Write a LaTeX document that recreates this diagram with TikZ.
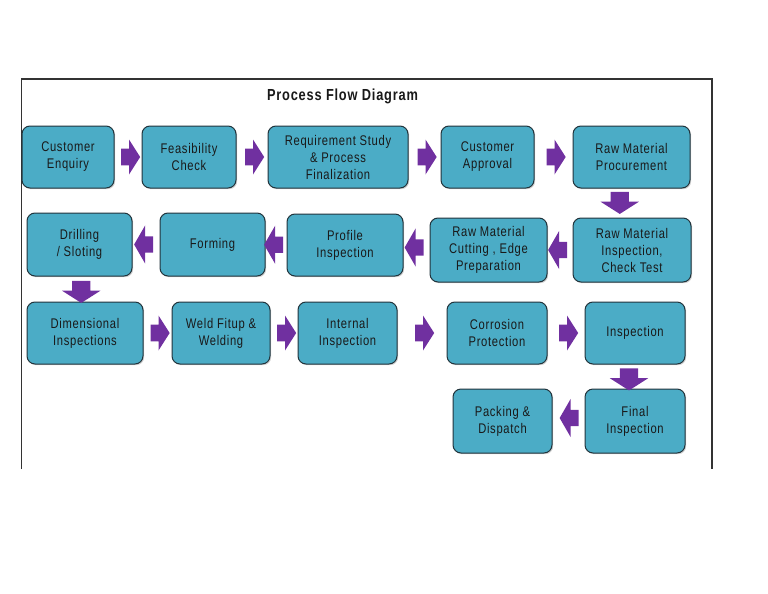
\documentclass[tikz,border=0pt]{standalone}
\usepackage{fontspec}
\setmainfont{Liberation Sans}[FakeStretch=0.8,LetterSpace=5]
\usetikzlibrary{shapes.arrows,shadows,calc}
\definecolor{boxfill}{HTML}{4BACC6}
\definecolor{arrfill}{HTML}{7030A0}
\definecolor{boxline}{HTML}{22343C}
\begin{document}
\begin{tikzpicture}[x=1pt,y=-1pt,
  stepbox/.style={rectangle, rounded corners=8pt, draw=boxline, line width=1pt,
    fill=boxfill, align=center, font=\fontsize{14}{17}\selectfont, text=black!90,
    inner sep=1pt,
    drop shadow={shadow xshift=1.2pt,shadow yshift=-1.2pt,opacity=0.35}},
  blockarrow/.style={single arrow, fill=arrfill, draw=none, minimum height=19pt,
    minimum width=35pt, single arrow head extend=9pt, single arrow tip angle=115},
  rarrow/.style={blockarrow, shape border rotate=0, inner xsep=0pt, inner ysep=8pt},
  larrow/.style={blockarrow, shape border rotate=180, inner xsep=0pt, inner ysep=8pt,
    minimum width=38pt, single arrow head extend=11pt, single arrow tip angle=120},
  darrow/.style={blockarrow, shape border rotate=270, inner xsep=9pt, inner ysep=0pt,
    minimum width=37pt, single arrow head extend=10pt, minimum height=22pt},
  frameline/.style={draw=black!80, line width=1.1pt}
]
\useasboundingbox (0,0) rectangle (768,594);

% frame
\coordinate (fbl) at (21.5,469);
\coordinate (ftl) at (21.5,79);
\coordinate (ftr) at (712,79);
\coordinate (fbr) at (712,469);
\draw[frameline] (fbl) -- (ftl) -- (ftr) -- (fbr);

\node[font=\bfseries\fontsize{16}{18}\selectfont, text=black!90] (title) at (342.5,96) {Process Flow Diagram};

% row 1
\node[stepbox, minimum width=92pt, minimum height=62pt] (p1) at (68,157) {Customer\\Enquiry};
\node[stepbox, minimum width=94pt, minimum height=62pt] (p2) at (189,157) {Feasibility\\Check};
\node[stepbox, minimum width=140pt, minimum height=62pt] (p3) at (338,157) {Requirement Study\\\& Process\\Finalization};
\node[stepbox, minimum width=93pt, minimum height=62pt] (p4) at (487.5,157) {Customer\\Approval};
\node[stepbox, minimum width=117pt, minimum height=62pt] (p5) at (631.5,157) {Raw Material\\Procurement};

% row 2
\node[stepbox, minimum width=118pt, minimum height=64pt] (p6) at (632,250) {Raw Material\\Inspection,\\Check Test};
\node[stepbox, minimum width=117pt, minimum height=64pt] (p7) at (488.5,250) {Raw Material\\Cutting , Edge\\Preparation};
\node[stepbox, minimum width=116pt, minimum height=62pt] (p8) at (345,245) {Profile\\Inspection};
\node[stepbox, minimum width=105pt, minimum height=63pt] (p9) at (212.5,244.5) {Forming};
\node[stepbox, minimum width=105pt, minimum height=63pt] (p10) at (79.5,244.5) {Drilling\\/ Sloting};

% row 3
\node[stepbox, minimum width=116pt, minimum height=62pt] (p11) at (85,333) {Dimensional\\Inspections};
\node[stepbox, minimum width=98pt, minimum height=62pt] (p12) at (221,333) {Weld Fitup \&\\Welding};
\node[stepbox, minimum width=99pt, minimum height=62pt] (p13) at (347.5,333) {Internal\\Inspection};
\node[stepbox, minimum width=100pt, minimum height=62pt] (p14) at (497,333) {Corrosion\\Protection};
\node[stepbox, minimum width=100pt, minimum height=62pt] (p15) at (635,333) {Inspection};

% row 4
\node[stepbox, minimum width=100pt, minimum height=64pt] (p16) at (635,421) {Final\\Inspection};
\node[stepbox, minimum width=99pt, minimum height=64pt] (p17) at (502.5,421) {Packing \&\\Dispatch};

% arrows row 1
\node[rarrow] (a1) at ($(p1.east)!0.5!(p2.west)$) {};
\node[rarrow] (a2) at ($(p2.east)!0.5!(p3.west)$) {};
\node[rarrow] (a3) at ($(p3.east)!0.5!(p4.west)$) {};
\node[rarrow] (a4) at ($(p4.east)!0.5!(p5.west)$) {};
\node[darrow, xshift=-12pt, yshift=3pt] (a5) at ($(p5.south)!0.5!(p6.north)$) {};
% arrows row 2
\node[larrow] (a6) at ($(p6.west)!0.5!(p7.east)$) {};
\node[larrow] (a7) at ($(p7.west)!0.5!(p8.east)$) {};
\node[larrow] (a8) at ($(p8.west)!0.5!(p9.east)$) {};
\node[larrow] (a9) at ($(p9.west)!0.5!(p10.east)$) {};
\node[darrow, xshift=-1pt] (a10) at ($(p10.south)!0.5!(p11.north)$) {};
% arrows row 3
\node[rarrow] (a11) at ($(p11.east)!0.5!(p12.west)$) {};
\node[rarrow] (a12) at ($(p12.east)!0.5!(p13.west)$) {};
\node[rarrow] (a13) at ($(p13.east)!0.5!(p14.west)$) {};
\node[rarrow] (a14) at ($(p14.east)!0.5!(p15.west)$) {};
\node[darrow, xshift=-6pt] (a15) at ($(p15.south)!0.5!(p16.north)$) {};
% row 4
\node[larrow, xshift=3pt, yshift=3pt] (a16) at ($(p16.west)!0.5!(p17.east)$) {};
\end{tikzpicture}
\end{document}
